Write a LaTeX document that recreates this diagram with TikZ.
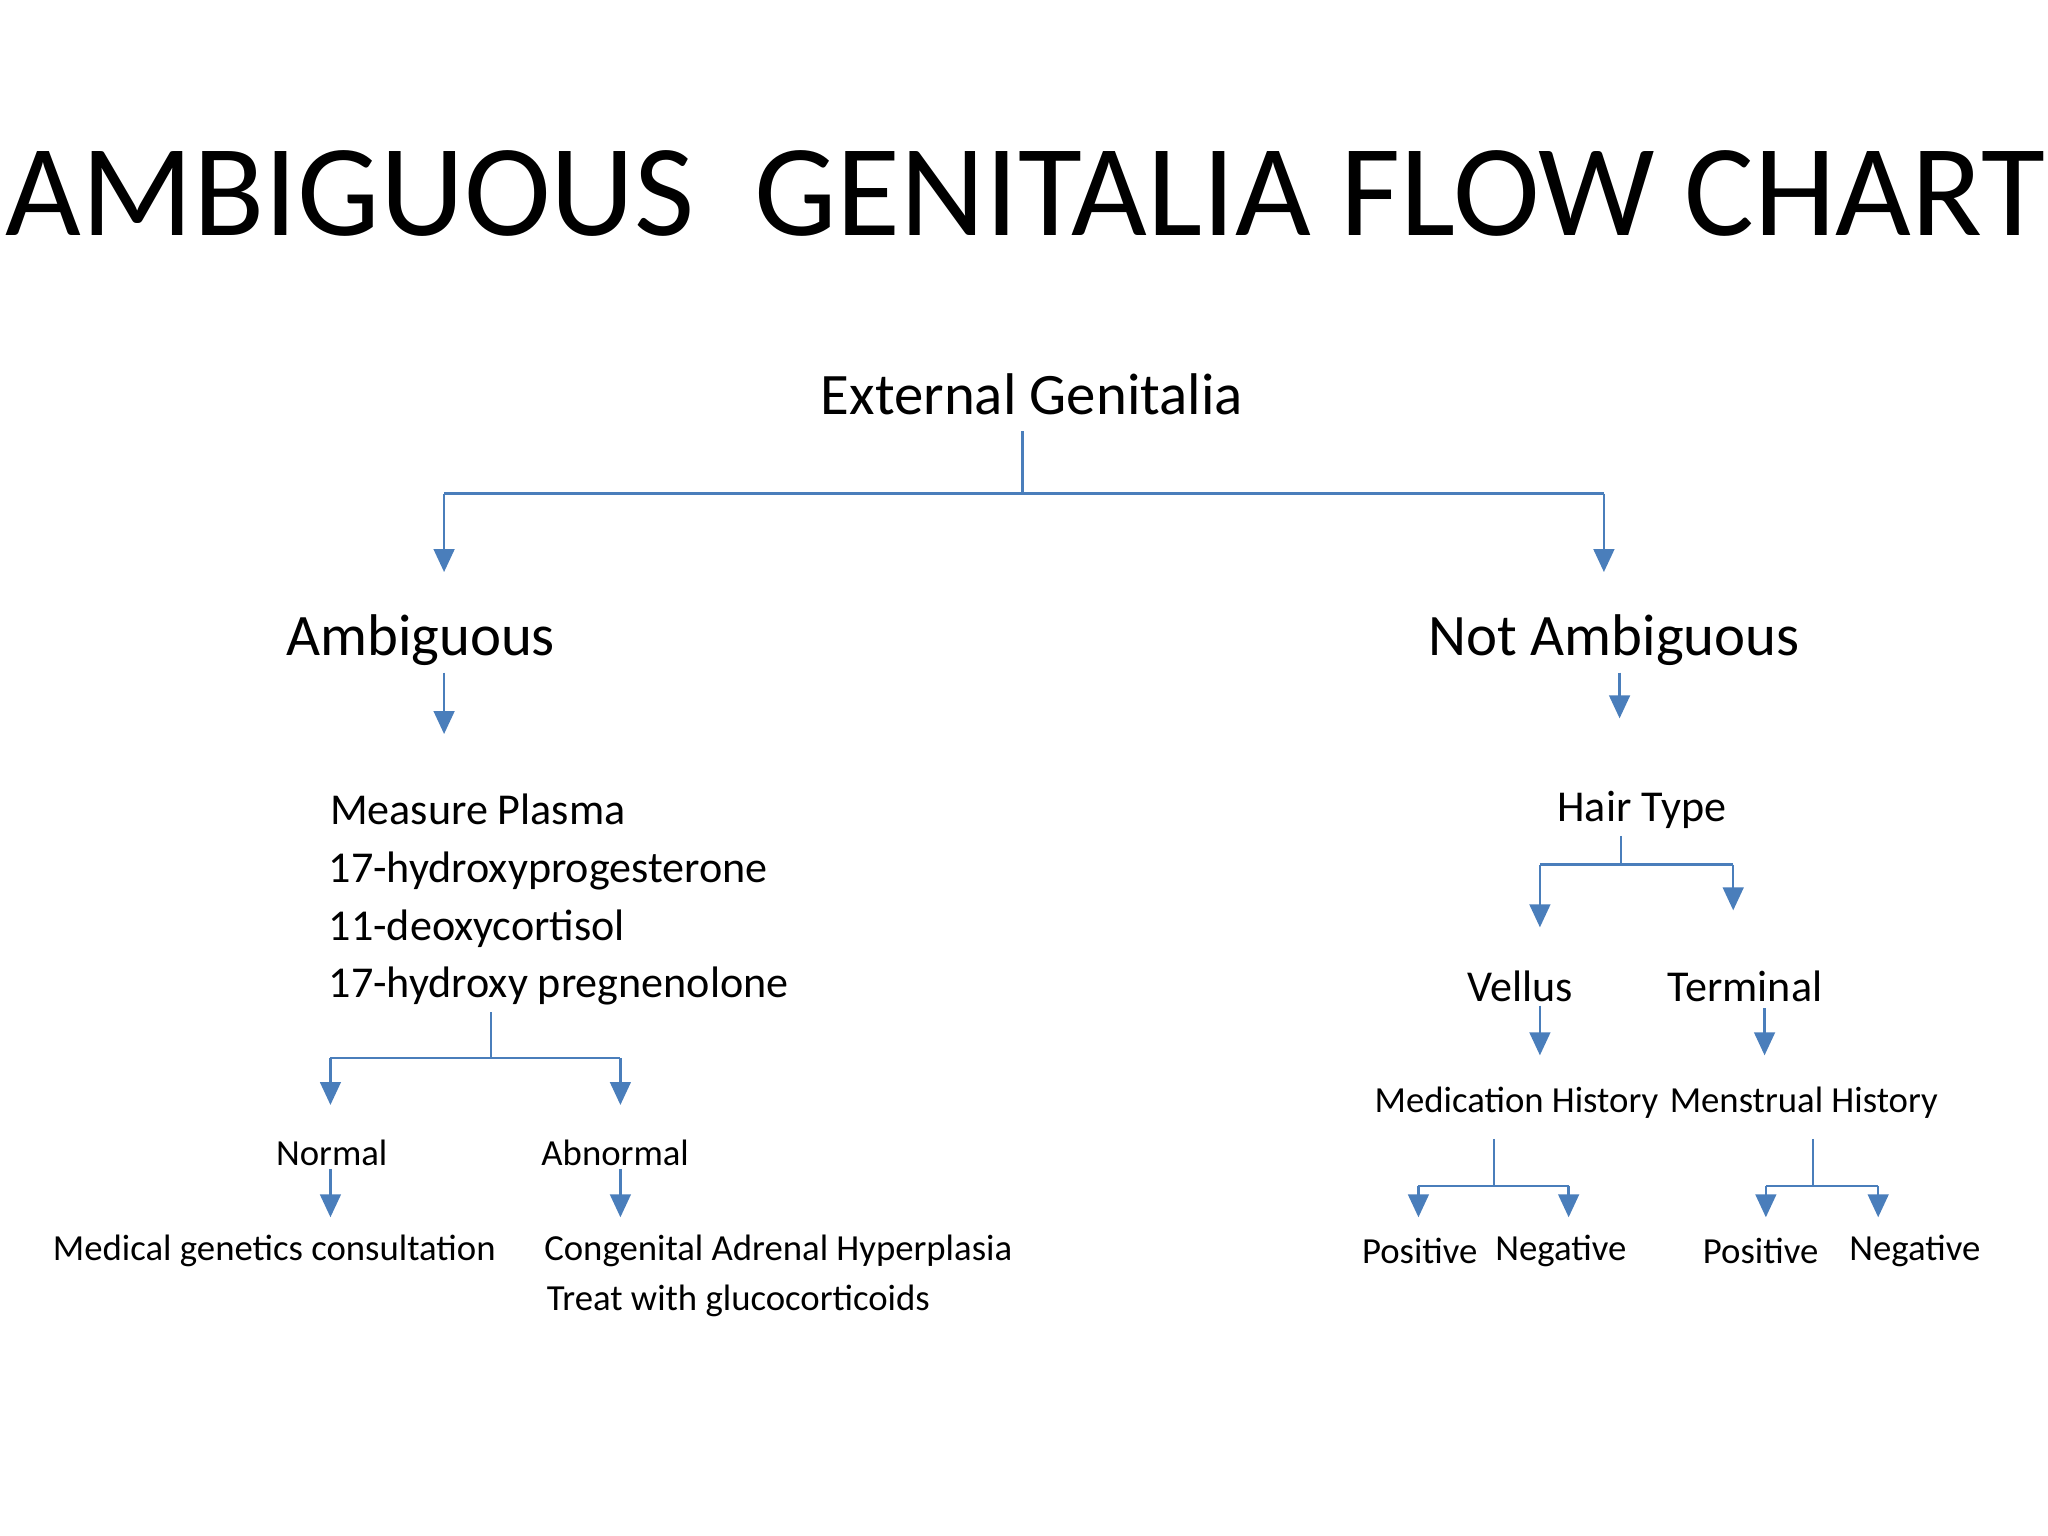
\documentclass[tikz,border=0pt]{standalone}
\usepackage{fontspec}
\setmainfont{Carlito}
\usetikzlibrary{arrows.meta}
\definecolor{lb}{HTML}{4A7EBB}
\begin{document}
\begin{tikzpicture}[x=0.01cm,y=-0.01cm,
  con/.style={draw=lb,line width=0.55pt},
  arr/.style={con,-{Triangle[width=4.5pt,length=5pt]}},
  big/.style={font=\fontsize{12.8}{14}\selectfont,inner sep=0pt},
  mid/.style={font=\fontsize{9.6}{11}\selectfont,inner sep=0pt},
  sml/.style={font=\fontsize{8}{9.5}\selectfont,inner sep=0pt}]
\useasboundingbox (0,0) rectangle (1568,1176);
\node[inner sep=0pt,font=\fontsize{28.5}{30}\selectfont] (title) at (785,148) {AMBIGUOUS\ \ GENITALIA FLOW CHART};
\node[big] (ext) at (790,302) {External Genitalia};
\node[big] (amb) at (322,490) {Ambiguous};
\node[big] (namb) at (1236,490) {Not Ambiguous};
\coordinate (e1) at (783,330); \coordinate (e2) at (783,378);
\coordinate (eL) at (340,378); \coordinate (eR) at (1228,378);
\coordinate (eLa) at (340,438); \coordinate (eRa) at (1228,438);
\draw[con] (e1) -- (e2) (eL) -- (eR);
\draw[arr] (eL) -- (eLa); \draw[arr] (eR) -- (eRa);
\coordinate (a1) at (340,515); \coordinate (a2) at (340,562);
\draw[arr] (a1) -- (a2);
\coordinate (n1) at (1240,515); \coordinate (n2) at (1240,550);
\draw[arr] (n1) -- (n2);
\node[mid,anchor=west] (mp) at (252,620) {Measure Plasma};
\node[mid,anchor=west] (h17) at (251,667) {17-hydroxyprogesterone};
\node[mid,anchor=west] (d11) at (251,711) {11-deoxycortisol};
\node[mid,anchor=west] (hp) at (251,755) {17-hydroxy pregnenolone};
\coordinate (m1) at (376,775); \coordinate (m2) at (376,810);
\coordinate (mL) at (253,810); \coordinate (mR) at (475,810);
\coordinate (mLa) at (253,846); \coordinate (mRa) at (475,846);
\draw[con] (m1) -- (m2) (mL) -- (mR);
\draw[arr] (mL) -- (mLa); \draw[arr] (mR) -- (mRa);
\node[sml] (nor) at (254,883) {Normal};
\node[sml] (abn) at (471,883) {Abnormal};
\coordinate (o1) at (253,895); \coordinate (o2) at (253,932);
\coordinate (p1) at (475,895); \coordinate (p2) at (475,932);
\draw[arr] (o1) -- (o2); \draw[arr] (p1) -- (p2);
\node[sml] (mgc) at (210,958) {Medical genetics consultation};
\node[sml,anchor=west] (cah) at (416,958) {Congenital Adrenal Hyperplasia};
\node[sml,anchor=west] (twg) at (418,996) {Treat with glucocorticoids};
\node[mid] (hair) at (1257,620) {Hair Type};
\coordinate (h1) at (1241,640); \coordinate (h2) at (1241,662);
\coordinate (hL) at (1179,662); \coordinate (hR) at (1327,662);
\coordinate (hLa) at (1179,710); \coordinate (hRa) at (1327,697);
\draw[con] (h1) -- (h2) (hL) -- (hR);
\draw[arr] (hL) -- (hLa); \draw[arr] (hR) -- (hRa);
\node[mid] (vel) at (1164,755) {Vellus};
\node[mid] (ter) at (1336,755) {Terminal};
\coordinate (v1) at (1179,770); \coordinate (v2) at (1179,808);
\coordinate (t1) at (1351,772); \coordinate (t2) at (1351,808);
\draw[arr] (v1) -- (v2); \draw[arr] (t1) -- (t2);
\node[sml] (med) at (1161,844) {Medication History};
\node[sml] (men) at (1381,844) {Menstrual History};
\coordinate (q1) at (1144,872); \coordinate (q2) at (1144,908);
\coordinate (qL) at (1086,908); \coordinate (qR) at (1201,908);
\coordinate (qLa) at (1086,932); \coordinate (qRa) at (1201,932);
\draw[con] (q1) -- (q2) (qL) -- (qR);
\draw[arr] (qL) -- (qLa); \draw[arr] (qR) -- (qRa);
\coordinate (r1) at (1388,872); \coordinate (r2) at (1388,908);
\coordinate (rL) at (1352,908); \coordinate (rR) at (1438,908);
\coordinate (rLa) at (1352,932); \coordinate (rRa) at (1438,932);
\draw[con] (r1) -- (r2) (rL) -- (rR);
\draw[arr] (rL) -- (rLa); \draw[arr] (rR) -- (rRa);
\node[sml] (pos1) at (1087,958) {Positive};
\node[sml] (neg1) at (1195,958) {Negative};
\node[sml] (pos2) at (1348,958) {Positive};
\node[sml] (neg2) at (1466,958) {Negative};
\end{tikzpicture}
\end{document}
